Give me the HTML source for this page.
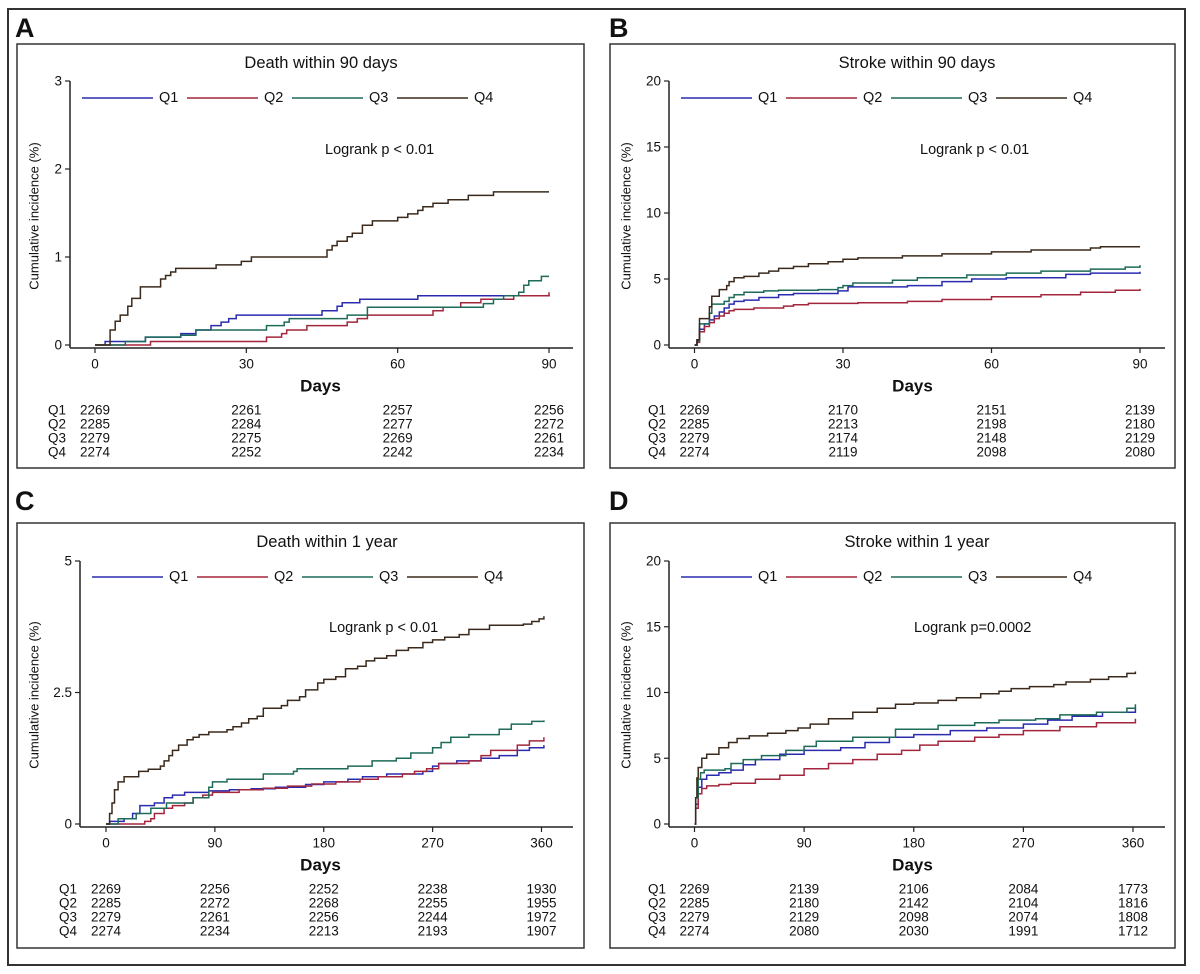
<!DOCTYPE html>
<html><head><meta charset="utf-8"><style>
body{margin:0;background:#fff;}
svg{display:block;font-family:"Liberation Sans",Arial,sans-serif;}
</style></head><body>
<svg id="fig" width="1200" height="974" viewBox="0 0 1200 974" xmlns="http://www.w3.org/2000/svg">
<rect x="0" y="0" width="1200" height="974" fill="#fff"/>
<rect x="8" y="9" width="1177" height="956" fill="none" stroke="#333" stroke-width="2"/>
</svg>
<script>
// ---- data ----
const seriesNames = ["Q1","Q2","Q3","Q4"];
const seriesColors = ["#2b2bb0","#a3263c","#1d6b58","#3b2a1c"];

const A_Q1 = [[0,0],[2,0.04],[10,0.09],[17,0.13],[20,0.17],[23,0.22],[25,0.26],[26.5,0.30],[28,0.34],[45,0.39],[48,0.44],[49,0.48],[52.5,0.52],[64,0.56],[90,0.57]];
const A_Q2 = [[0,0],[11,0.04],[34,0.09],[37,0.13],[38,0.17],[42,0.22],[50,0.26],[52,0.30],[54,0.34],[67,0.39],[69,0.43],[72.5,0.48],[76.5,0.52],[83,0.56],[90,0.60]];
const A_Q3 = [[0,0],[6,0.04],[10,0.09],[17,0.11],[20,0.17],[34,0.22],[37.5,0.26],[38.5,0.30],[50,0.34],[54,0.43],[77,0.47],[79,0.52],[81,0.56],[84,0.60],[85,0.68],[86,0.73],[88.5,0.78],[90,0.78]];
const A_Q4 = [[0,0],[3,0.17],[4,0.27],[5,0.34],[6.5,0.44],[7.3,0.53],[9,0.66],[13,0.75],[14,0.79],[15,0.83],[16,0.87],[24,0.91],[29,0.95],[31,1.0],[46,1.08],[47,1.13],[48,1.18],[50,1.23],[51,1.27],[53,1.36],[55,1.41],[60,1.45],[62,1.49],[64,1.53],[65,1.57],[67,1.61],[70,1.65],[74,1.70],[79,1.74],[90,1.74]];

const B_Q1 = [[0,0],[0.5,0.4],[1,1.2],[2,1.6],[3,1.9],[4,2.2],[5,2.5],[6,2.8],[7,3.1],[8,3.3],[10,3.4],[13,3.6],[17,3.8],[20,3.9],[29,4.1],[31,4.4],[43,4.5],[50,4.8],[56,5.0],[63,5.1],[75,5.35],[80,5.45],[90,5.55]];
const B_Q2 = [[0,0],[0.5,0.2],[1,1.0],[2,1.4],[3,1.7],[4,2.0],[5,2.2],[6,2.4],[7,2.6],[8,2.7],[12,2.8],[18,2.95],[20,3.05],[23,3.15],[33,3.2],[43,3.3],[50,3.45],[60,3.65],[70,3.8],[78,4.0],[85,4.15],[90,4.25]];
const B_Q3 = [[0,0],[0.5,0.3],[1,1.6],[3,2.4],[3.5,3.1],[6,3.3],[7,3.6],[8,3.8],[10,4.0],[14,4.1],[17,4.15],[25,4.2],[29,4.35],[30,4.5],[32,4.7],[40,4.9],[45,5.1],[55,5.3],[63,5.45],[70,5.6],[80,5.75],[87,5.9],[90,6.05]];
const B_Q4 = [[0,0],[0.5,0.4],[1,2.0],[3,2.9],[3.5,3.7],[5,4.2],[6.5,4.5],[7,4.8],[8,5.1],[10,5.2],[13,5.45],[15,5.6],[17,5.8],[20,5.95],[23,6.15],[27,6.3],[30,6.5],[33,6.6],[42,6.75],[50,6.9],[60,7.05],[68,7.2],[80,7.35],[82,7.45],[90,7.45]];

const C_Q1 = [[0,0],[3,0.05],[15,0.1],[22,0.2],[28,0.35],[40,0.4],[48,0.5],[55,0.55],[65,0.6],[85,0.63],[102,0.65],[120,0.67],[140,0.7],[165,0.75],[180,0.8],[200,0.85],[212,0.9],[232,0.95],[262,1.0],[270,1.1],[275,1.15],[290,1.2],[310,1.25],[325,1.3],[340,1.4],[350,1.45],[362,1.5]];
const C_Q2 = [[0,0],[32,0.05],[37,0.1],[40,0.2],[48,0.3],[55,0.35],[65,0.4],[72,0.5],[80,0.55],[88,0.6],[110,0.65],[130,0.68],[150,0.72],[170,0.76],[190,0.8],[210,0.85],[225,0.9],[245,0.95],[255,1.0],[265,1.05],[275,1.15],[300,1.2],[310,1.3],[318,1.4],[340,1.5],[350,1.58],[362,1.65]];
const C_Q3 = [[0,0],[10,0.1],[25,0.2],[37,0.3],[50,0.4],[72,0.5],[85,0.7],[88,0.8],[100,0.85],[130,0.95],[155,1.0],[158,1.05],[200,1.1],[220,1.2],[240,1.25],[252,1.35],[270,1.45],[277,1.55],[285,1.65],[300,1.7],[325,1.8],[335,1.9],[352,1.95],[362,1.97]];
const C_Q4 = [[0,0],[3,0.2],[5,0.4],[7,0.65],[10,0.8],[15,0.9],[27,1.0],[35,1.04],[45,1.1],[48,1.2],[52,1.3],[55,1.4],[60,1.5],[67,1.6],[72,1.65],[77,1.7],[85,1.75],[100,1.79],[105,1.85],[112,1.92],[118,2.0],[125,2.05],[130,2.2],[145,2.25],[150,2.35],[160,2.42],[165,2.55],[175,2.68],[180,2.75],[190,2.8],[198,2.95],[208,3.0],[215,3.1],[222,3.15],[232,3.2],[240,3.3],[250,3.35],[262,3.45],[270,3.5],[280,3.55],[292,3.6],[300,3.7],[317,3.78],[345,3.8],[352,3.85],[358,3.9],[362,3.95]];

const D_Q1 = [[0,0],[1,1.5],[3,2.8],[6,3.4],[10,3.7],[20,3.9],[30,4.1],[40,4.5],[50,4.9],[70,5.3],[90,5.6],[120,5.8],[140,6.2],[160,6.6],[180,6.8],[210,7.1],[240,7.3],[270,7.6],[290,7.9],[310,8.2],[335,8.5],[362,8.8]];
const D_Q2 = [[0,0],[1,1.2],[3,2.3],[6,2.7],[10,2.9],[20,3.0],[30,3.1],[50,3.4],[70,3.7],[90,4.2],[110,4.6],[130,4.9],[150,5.3],[170,5.6],[185,6.0],[200,6.3],[230,6.6],[250,6.8],[270,7.1],[300,7.4],[330,7.7],[362,8.0]];
const D_Q3 = [[0,0],[1,2.0],[3,3.4],[5,3.9],[8,4.1],[25,4.2],[30,4.6],[40,4.9],[55,5.2],[75,5.6],[90,5.9],[100,6.3],[130,6.6],[165,7.2],[200,7.5],[230,7.7],[250,7.9],[280,8.0],[300,8.3],[330,8.5],[355,8.8],[362,9.1]];
const D_Q4 = [[0,0],[1,2.0],[2,3.5],[3,4.3],[6,5.0],[10,5.3],[20,5.8],[28,6.2],[35,6.5],[45,6.7],[60,6.9],[75,7.1],[85,7.3],[95,7.6],[110,8.0],[130,8.5],[150,8.8],[165,9.1],[180,9.2],[200,9.4],[215,9.6],[235,9.9],[250,10.1],[260,10.3],[275,10.45],[295,10.6],[305,10.8],[325,11.0],[340,11.2],[355,11.45],[362,11.6]];

const xTicks90 = [0,30,60,90];
const xTicks360 = [0,90,180,270,360];
const yTicksA = [0,1,2,3];
const yTicksB = [0,5,10,15,20];
const yTicksC = [0,2.5,5];
const yTicksD = [0,5,10,15,20];

const riskA = [[2269,2261,2257,2256],[2285,2284,2277,2272],[2279,2275,2269,2261],[2274,2252,2242,2234]];
const riskB = [[2269,2170,2151,2139],[2285,2213,2198,2180],[2279,2174,2148,2129],[2274,2119,2098,2080]];
const riskC = [[2269,2256,2252,2238,1930],[2285,2272,2268,2255,1955],[2279,2261,2256,2244,1972],[2274,2234,2213,2193,1907]];
const riskD = [[2269,2139,2106,2084,1773],[2285,2180,2142,2104,1816],[2279,2129,2098,2074,1808],[2274,2080,2030,1991,1712]];

const titles = ["Death within 90 days","Stroke within 90 days","Death within 1 year","Stroke within 1 year"];
const pvalues = ["Logrank p < 0.01","Logrank p < 0.01","Logrank p < 0.01","Logrank p=0.0002"];

// ---- layout ----
const NS = "http://www.w3.org/2000/svg";
const svg = document.getElementById('fig');
function mk(tag, attrs, parent, text){
  const e = document.createElementNS(NS, tag);
  for (const k in attrs) e.setAttribute(k, attrs[k]);
  if (text !== undefined) e.textContent = text;
  (parent || svg).appendChild(e);
  return e;
}

const panels = [
  {id:'a', letter:'A', lx:15, ly:37, box:[17,44,584,468], yax:70, xEnd:573, x0:95, x1:549, xmax:90, yTop:81, y0:345, ymax:3, axisY:348, legY:98, logX:325, logY:150, titleX:321, titleY:63, tickY:364, daysY:386, ytX:34, ytY:216, riskX:48, riskY:410,
   series:[A_Q1,A_Q2,A_Q3,A_Q4], xticks:xTicks90, yticks:yTicksA, risk:riskA},
  {id:'b', letter:'B', lx:609, ly:37, box:[610,44,1175,468], yax:669, xEnd:1165, x0:694.5, x1:1140, xmax:90, yTop:81, y0:345, ymax:20, axisY:348, legY:98, logX:920, logY:150, titleX:917, titleY:63, tickY:364, daysY:386, ytX:626, ytY:216, riskX:648, riskY:410,
   series:[B_Q1,B_Q2,B_Q3,B_Q4], xticks:xTicks90, yticks:yTicksB, risk:riskB},
  {id:'c', letter:'C', lx:15, ly:510, box:[17,523,584,948], yax:80, xEnd:573, x0:106, x1:541.5, xmax:360, yTop:561, y0:824, ymax:5, axisY:827, legY:577, logX:329, logY:628, titleX:327, titleY:542, tickY:843, daysY:865, ytX:34, ytY:695, riskX:59, riskY:889,
   series:[C_Q1,C_Q2,C_Q3,C_Q4], xticks:xTicks360, yticks:yTicksC, risk:riskC},
  {id:'d', letter:'D', lx:609, ly:510, box:[610,523,1175,948], yax:669, xEnd:1165, x0:694.5, x1:1133, xmax:360, yTop:561, y0:824, ymax:20, axisY:827, legY:577, logX:914, logY:628, titleX:917, titleY:542, tickY:843, daysY:865, ytX:626, ytY:695, riskX:648, riskY:889,
   series:[D_Q1,D_Q2,D_Q3,D_Q4], xticks:xTicks360, yticks:yTicksD, risk:riskD}
];

panels.forEach((p, pi) => {
  const g = mk('g', {});
  
  
  const xs = v => p.x0 + (v / p.xmax) * (p.x1 - p.x0);
  const ys = v => p.y0 - (v / p.ymax) * (p.y0 - p.yTop);

  const letter = mk('text', {x:p.lx, y:p.ly, 'font-size':27, 'font-weight':'bold', fill:'#111'}, g, p.letter);
  
  

  const b = p.box;
  const box = mk('rect', {x:b[0], y:b[1], width:b[2]-b[0], height:b[3]-b[1], fill:'none', stroke:'#333', 'stroke-width':1.5}, g);
  
  

  const title = mk('text', {x:p.titleX, y:p.titleY, 'font-size':16.5, 'text-anchor':'middle', 'dominant-baseline':'central', fill:'#111'}, g, titles[pi]);
  
  

  // axes
  const yAxis = mk('line', {x1:p.yax, y1:p.yTop, x2:p.yax, y2:p.axisY, stroke:'#222', 'stroke-width':1.5}, g);
  
  
  const xAxis = mk('line', {x1:p.yax, y1:p.axisY, x2:p.xEnd, y2:p.axisY, stroke:'#222', 'stroke-width':1.5}, g);
  
  

  p.yticks.forEach(t => {
    const y = ys(t);
    const tk = mk('line', {x1:p.yax-5, y1:y, x2:p.yax, y2:y, stroke:'#222', 'stroke-width':1.2}, g);
    
    
    const tl = mk('text', {x:p.yax-8, y:y, 'font-size':13.5, 'text-anchor':'end', 'dominant-baseline':'central', fill:'#111'}, g, String(t));
    
    
  });
  p.xticks.forEach(t => {
    const x = xs(t);
    const tk = mk('line', {x1:x, y1:p.axisY, x2:x, y2:p.axisY+5, stroke:'#222', 'stroke-width':1.2}, g);
    
    
    const tl = mk('text', {x:x, y:p.tickY, 'font-size':13.5, 'text-anchor':'middle', 'dominant-baseline':'central', fill:'#111'}, g, String(t));
    
    
  });

  const days = mk('text', {x:(p.box[0]+p.box[2])/2 + 20, y:p.daysY, 'font-size':17, 'font-weight':'bold', 'text-anchor':'middle', 'dominant-baseline':'central', fill:'#111'}, g, 'Days');
  
  

  const yt = mk('text', {x:p.ytX, y:p.ytY, 'font-size':13, 'text-anchor':'middle', 'dominant-baseline':'central', fill:'#111', transform:`rotate(-90 ${p.ytX} ${p.ytY})`}, g, 'Cumulative incidence (%)');
  
  

  // legend
  seriesNames.forEach((n, i) => {
    const lx = p.yax + 12 + i * 105;
    const lg = mk('g', {}, g);
    
    
    mk('line', {x1:lx, y1:p.legY, x2:lx+71, y2:p.legY, stroke:seriesColors[i], 'stroke-width':1.5}, lg);
    mk('text', {x:lx+77, y:p.legY, 'font-size':14.5, 'dominant-baseline':'central', fill:'#111'}, lg, n);
  });

  const lr = mk('text', {x:p.logX, y:p.logY, 'font-size':14.5, 'dominant-baseline':'central', fill:'#111'}, g, pvalues[pi]);
  
  

  // series step lines
  p.series.forEach((pts, i) => {
    let d = '';
    pts.forEach((pt, k) => {
      const x = xs(pt[0]).toFixed(1), y = ys(pt[1]).toFixed(1);
      if (k === 0) d += `M${x},${y}`;
      else d += `H${x}V${y}`;
    });
    const path = mk('path', {d:d, fill:'none', stroke:seriesColors[i], 'stroke-width':1.5}, g);
    
    
  });

  // risk table
  p.risk.forEach((row, r) => {
    const y = p.riskY + r * 14;
    const rl = mk('text', {x:p.riskX, y:y, 'font-size':13.5, 'dominant-baseline':'central', fill:'#111'}, g, seriesNames[r]);
    
    
    row.forEach((v, c) => {
      const t = mk('text', {x:xs(p.xticks[c]), y:y, 'font-size':13.5, 'text-anchor':'middle', 'dominant-baseline':'central', fill:'#111'}, g, String(v));
      
      
    });
  });
});
</script>
</body></html>
